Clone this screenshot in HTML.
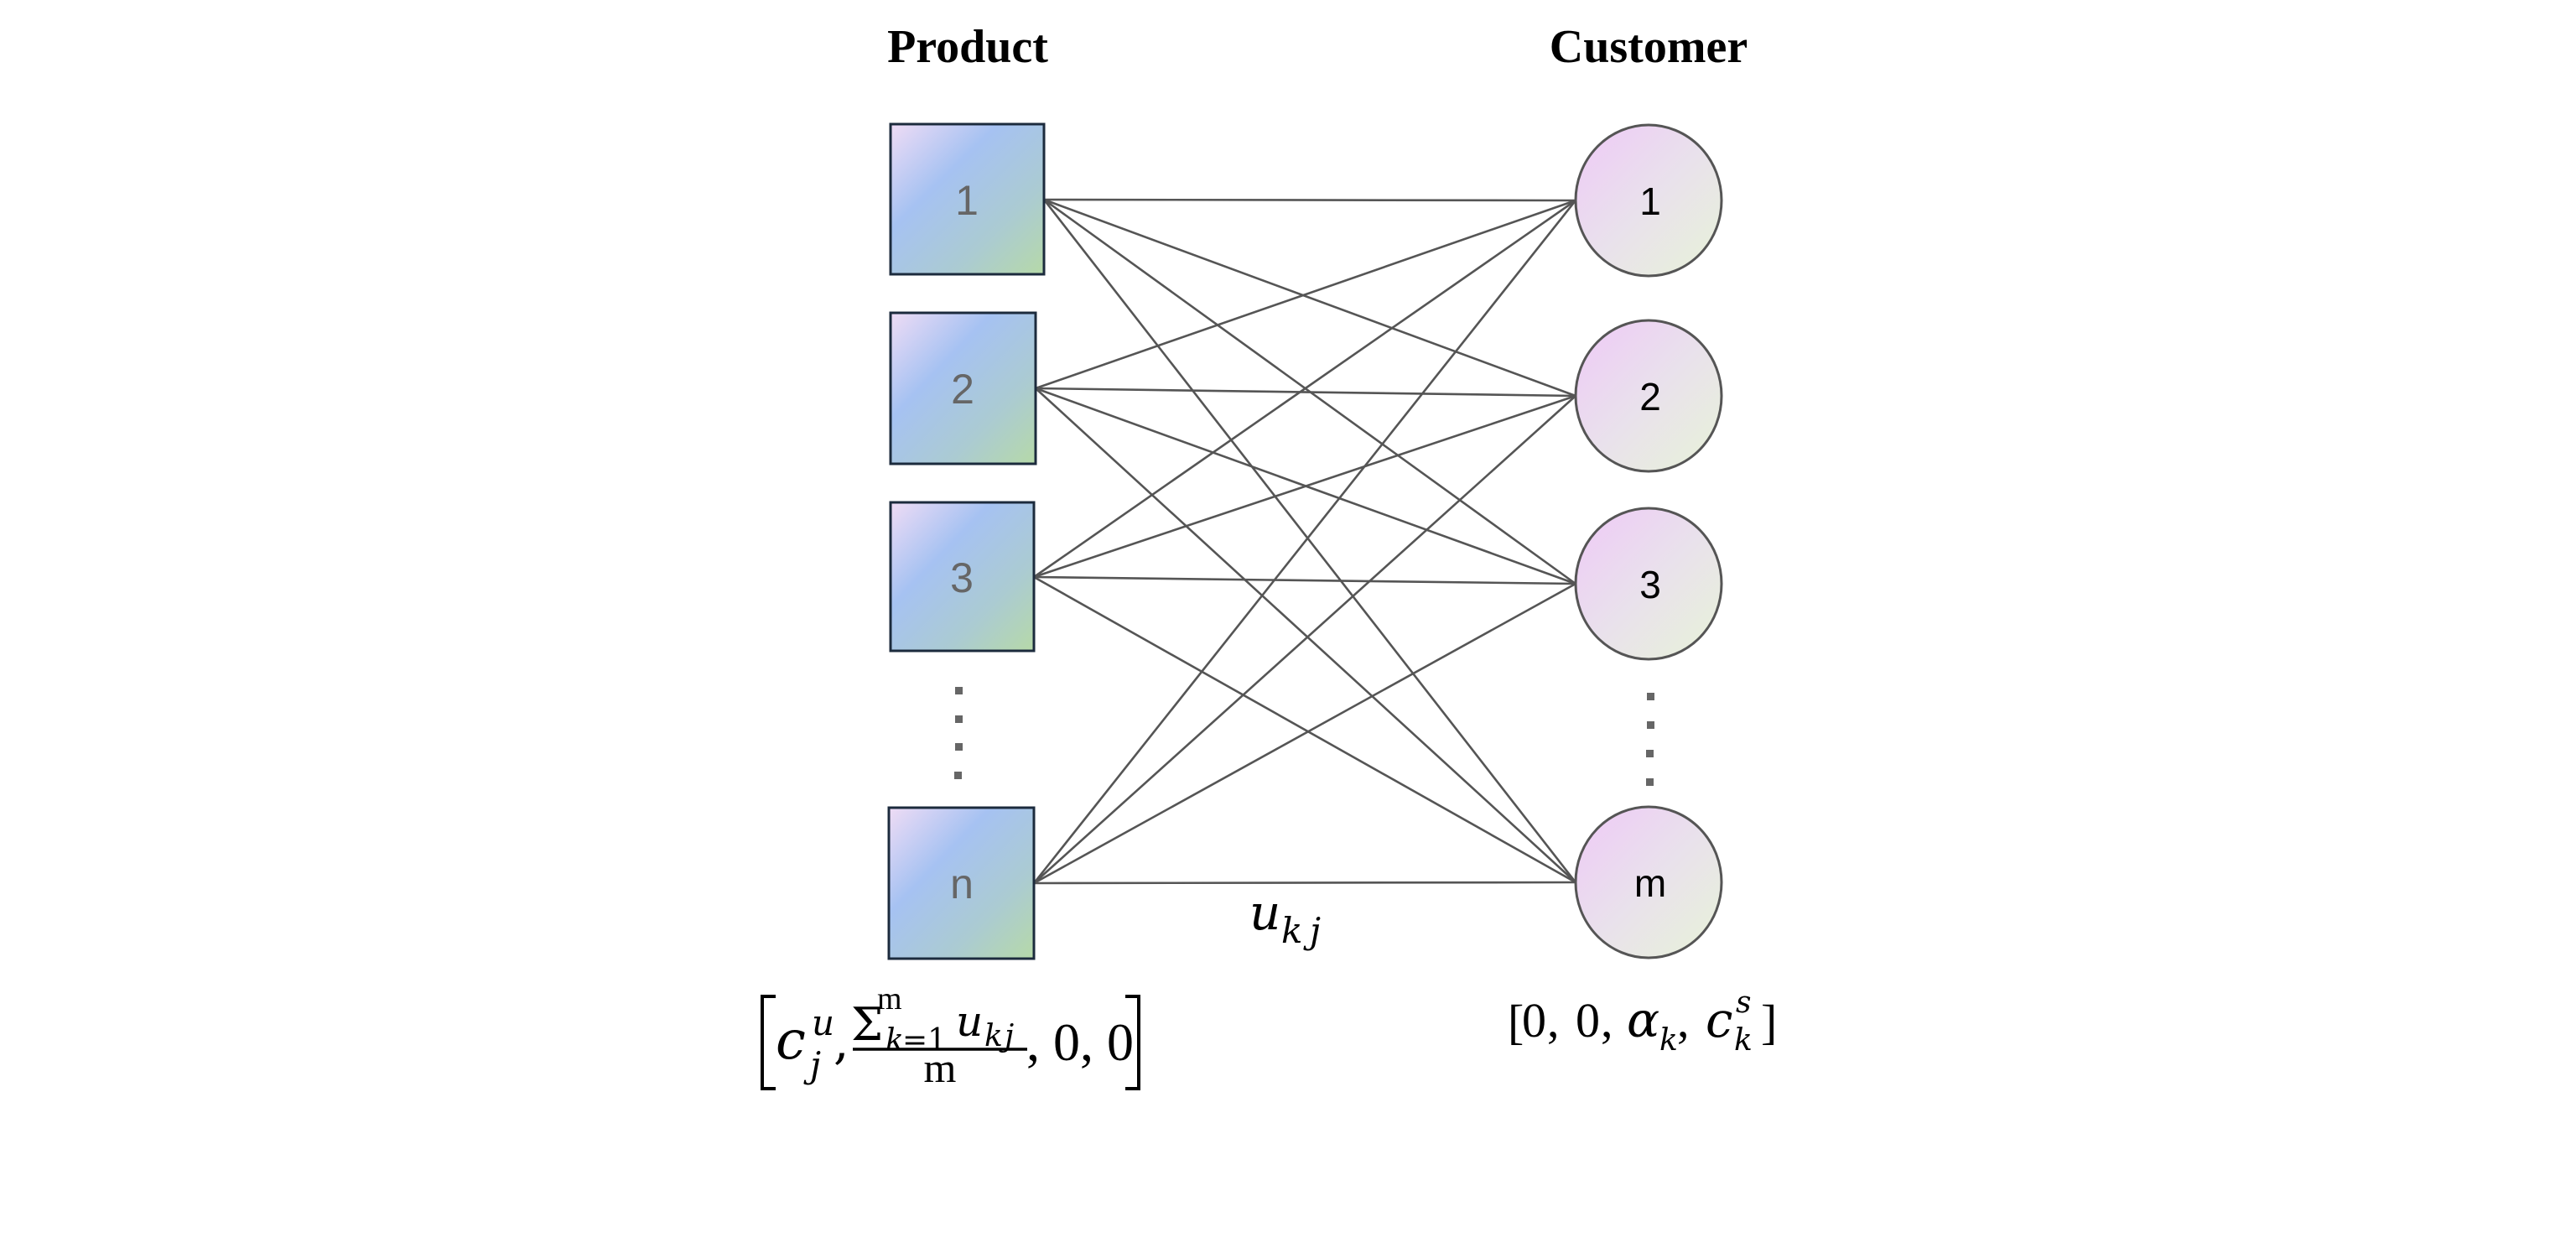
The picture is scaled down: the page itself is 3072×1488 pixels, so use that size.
<!DOCTYPE html>
<html><head><meta charset="utf-8"><style>
html,body{margin:0;padding:0;background:#fff;}
svg{display:block;}
</style></head><body>
<svg width="3072" height="1488" viewBox="0 0 3072 1488" xmlns="http://www.w3.org/2000/svg">
<defs>
<linearGradient id="bg" x1="0" y1="0" x2="1" y2="1">
<stop offset="0" stop-color="#efdcf5"/>
<stop offset="0.35" stop-color="#a6c2f2"/>
<stop offset="0.7" stop-color="#abcbd2"/>
<stop offset="1" stop-color="#b6d9a8"/>
</linearGradient>
<linearGradient id="cg" x1="0" y1="0" x2="1" y2="1">
<stop offset="0" stop-color="#efc9f7"/>
<stop offset="0.5" stop-color="#e9e1ec"/>
<stop offset="1" stop-color="#e8f3d8"/>
</linearGradient>
</defs>
<g font-family="Liberation Serif, serif" font-weight="bold" font-size="56" text-anchor="middle" fill="#000">
<text x="1154" y="74">Product</text>
<text x="1966" y="74">Customer</text>
</g>
<g stroke="#555" stroke-width="2.6" fill="none">
<line x1="1245" y1="238" x2="1879" y2="239"/>
<line x1="1245" y1="238" x2="1879" y2="472"/>
<line x1="1245" y1="238" x2="1879" y2="696"/>
<line x1="1245" y1="238" x2="1879" y2="1052"/>
<line x1="1235" y1="463" x2="1879" y2="239"/>
<line x1="1235" y1="463" x2="1879" y2="472"/>
<line x1="1235" y1="463" x2="1879" y2="696"/>
<line x1="1235" y1="463" x2="1879" y2="1052"/>
<line x1="1233" y1="688" x2="1879" y2="239"/>
<line x1="1233" y1="688" x2="1879" y2="472"/>
<line x1="1233" y1="688" x2="1879" y2="696"/>
<line x1="1233" y1="688" x2="1879" y2="1052"/>
<line x1="1233" y1="1053" x2="1879" y2="239"/>
<line x1="1233" y1="1053" x2="1879" y2="472"/>
<line x1="1233" y1="1053" x2="1879" y2="696"/>
<line x1="1233" y1="1053" x2="1879" y2="1052"/>
</g>
<g stroke="#1c2b3d" stroke-width="3" fill="url(#bg)">
<rect x="1062" y="148" width="183" height="179"/>
<rect x="1062" y="373" width="173" height="180"/>
<rect x="1062" y="599" width="171" height="177"/>
<rect x="1060" y="963" width="173" height="180"/>
</g>
<g font-family="Liberation Sans, sans-serif" font-size="50" fill="#666" text-anchor="middle">
<text x="1153" y="256">1</text>
<text x="1148" y="481">2</text>
<text x="1147" y="706">3</text>
<text x="1147" y="1071">n</text>
</g>
<g fill="#666">
<rect x="1139" y="819" width="9" height="9"/>
<rect x="1139" y="853" width="9" height="9"/>
<rect x="1139" y="886" width="9" height="9"/>
<rect x="1138" y="920" width="9" height="9"/>
<rect x="1964" y="826" width="9" height="9"/>
<rect x="1964" y="860" width="9" height="9"/>
<rect x="1963" y="894" width="9" height="9"/>
<rect x="1963" y="928" width="9" height="9"/>
</g>
<g stroke="#555" stroke-width="3" fill="url(#cg)">
<ellipse cx="1966" cy="239" rx="87" ry="90"/>
<ellipse cx="1966" cy="472" rx="87" ry="90"/>
<ellipse cx="1966" cy="696" rx="87" ry="90"/>
<ellipse cx="1966" cy="1052" rx="87" ry="90"/>
</g>
<g font-family="Liberation Sans, sans-serif" font-size="46" fill="#000" text-anchor="middle">
<text x="1968" y="256">1</text>
<text x="1968" y="489">2</text>
<text x="1968" y="713">3</text>
<text x="1968" y="1069">m</text>
</g>
<g font-family="DejaVu Serif, serif" fill="#000">
<text x="1490" y="1108" font-size="58" font-style="italic">u</text>
<text x="1528" y="1124" font-size="42" font-style="italic">k</text>
<text x="1562" y="1124" font-size="42" font-style="italic">j</text>

<!-- left formula -->
<path d="M925 1188 L909 1188 L909 1298 L925 1298" stroke="#000" stroke-width="4" fill="none"/>
<path d="M1342 1188 L1358 1188 L1358 1298 L1342 1298" stroke="#000" stroke-width="4" fill="none"/>
<text x="925" y="1262" font-size="64" font-style="italic">c</text>
<text x="968" y="1234" font-size="42" font-style="italic">u</text>
<text x="966" y="1284" font-size="42" font-style="italic">j</text>
<text x="994" y="1262" font-size="58">,</text>
<text x="1015" y="1240" font-size="54">Σ</text>
<text x="1046" y="1203" font-size="38" font-family="Liberation Serif, serif">m</text>
<text x="1056" y="1252" font-size="36" font-style="italic">k</text>
<text x="1076" y="1252" font-size="36">=1</text>
<text x="1140" y="1235" font-size="50" font-style="italic">u</text>
<text x="1174" y="1247" font-size="36" font-style="italic">k</text>
<text x="1198" y="1247" font-size="36" font-style="italic">j</text>
<line x1="1017" y1="1251" x2="1225" y2="1251" stroke="#000" stroke-width="3.5"/>
<text x="1121" y="1290" font-size="50" text-anchor="middle" font-family="Liberation Serif, serif">m</text>
<text x="1224" y="1264" font-size="64" font-family="Liberation Serif, serif">, 0, 0</text>

<!-- right formula -->
<g font-family="Liberation Serif, serif" font-size="58">
<text x="1798" y="1238">[</text>
<text x="1815" y="1236">0</text>
<text x="1845" y="1236">,</text>
<text x="1879" y="1236">0</text>
<text x="1909" y="1236">,</text>
<text x="2000" y="1236">,</text>
<text x="2100" y="1238">]</text>
</g>
<text x="1940" y="1236" font-size="58" font-style="italic">α</text>
<text x="1979" y="1252" font-size="36" font-style="italic">k</text>
<text x="2034" y="1236" font-size="58" font-style="italic">c</text>
<text x="2070" y="1207" font-size="36" font-style="italic">s</text>
<text x="2068" y="1252" font-size="36" font-style="italic">k</text>
</g>
</svg>
</body></html>
